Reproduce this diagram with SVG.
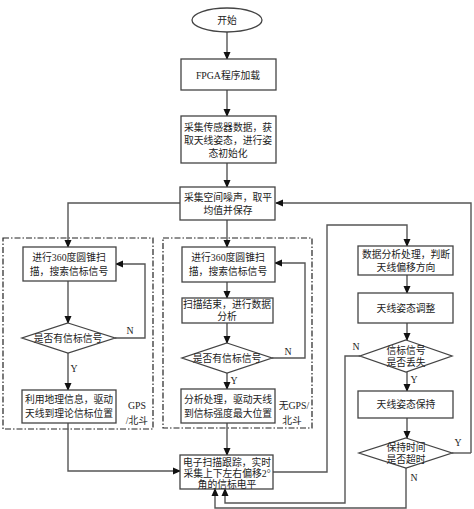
<svg xmlns="http://www.w3.org/2000/svg" width="474" height="509" viewBox="0 0 474 509">
<defs>
<marker id="ah" markerWidth="8" markerHeight="8" refX="7" refY="4" orient="auto" markerUnits="userSpaceOnUse">
<path d="M0,0.5 L8,4 L0,7.5 Z" fill="#111"/>
</marker>
<style>
.box{fill:#fff;stroke:#444;stroke-width:1.3}
.dash{fill:none;stroke:#222;stroke-width:1.2;stroke-dasharray:6,2,1.5,2}
.c{fill:none;stroke:#555;stroke-width:1.4}
text{font-family:"Liberation Serif","Noto Sans CJK SC",serif;font-size:9.8px;fill:#222;text-anchor:middle}
</style>
</defs>
<rect width="474" height="509" fill="#fff"/>
<rect class="dash" x="3" y="238" width="150" height="191"/>
<rect class="dash" x="163" y="238" width="149" height="190"/>
<g id="connectors">
<path class="c" d="M227,32 V59" marker-end="url(#ah)"/>
<path class="c" d="M227,90 V116" marker-end="url(#ah)"/>
<path class="c" d="M227,163 V187" marker-end="url(#ah)"/>
<path class="c" d="M180,203 H68 V247" marker-end="url(#ah)"/>
<path class="c" d="M227,220 V247" marker-end="url(#ah)"/>
<path class="c" d="M471,453 H452"/>
<path class="c" d="M471,453 V203 H276" marker-end="url(#ah)"/>
<path class="c" d="M68,281 V323" marker-end="url(#ah)"/>
<path class="c" d="M115,338 H145 V264 H116" marker-end="url(#ah)"/>
<path class="c" d="M68,353 V390" marker-end="url(#ah)"/>
<path class="c" d="M68,423 V471 H180" marker-end="url(#ah)"/>
<path class="c" d="M227,282 V298" marker-end="url(#ah)"/>
<path class="c" d="M227,323 V343" marker-end="url(#ah)"/>
<path class="c" d="M272,358 H305 V263 H275" marker-end="url(#ah)"/>
<path class="c" d="M227,373 V389" marker-end="url(#ah)"/>
<path class="c" d="M227,423 V455" marker-end="url(#ah)"/>
<path class="c" d="M273,472 H327 V225 H407 V246" marker-end="url(#ah)"/>
<path class="c" d="M407,275 V293" marker-end="url(#ah)"/>
<path class="c" d="M407,323 V340" marker-end="url(#ah)"/>
<path class="c" d="M407,372 V391" marker-end="url(#ah)"/>
<path class="c" d="M407,418 V438" marker-end="url(#ah)"/>
<path class="c" d="M360,356 H345 V503 H225 V489" marker-end="url(#ah)"/>
<path class="c" d="M406,468 V508 H215 V489" marker-end="url(#ah)"/>
<text x="130" y="334">N</text>
<text x="74" y="372">Y</text>
<text x="288" y="355">N</text>
<text x="234" y="384">Y</text>
<text x="356" y="350">N</text>
<text x="414" y="383">Y</text>
<text x="458" y="446">Y</text>
<text x="414" y="481">N</text>
</g>
<g id="start"><ellipse class="box" cx="227" cy="20" rx="35" ry="12"/><text x="227" y="24">开始</text></g>
<g id="fpga"><rect class="box" x="181" y="59" width="95" height="31"/><text x="228" y="79">FPGA程序加载</text></g>
<g id="init"><rect class="box" x="181" y="116" width="95" height="47"/><text x="228" y="131">采集传感器数据，获</text><text x="228" y="144">取天线姿态，进行姿</text><text x="228" y="157">态初始化</text></g>
<g id="noise"><rect class="box" x="180" y="187" width="95" height="33"/><text x="228" y="201">采集空间噪声，取平</text><text x="228" y="214">均值并保存</text></g>
<g id="scanL"><rect class="box" x="23" y="247" width="93" height="34"/><text x="69" y="261">进行360度圆锥扫</text><text x="69" y="275">描，搜索信标信号</text></g>
<g id="decL"><polygon class="box" points="68,323 115,338 68,353 22,338"/><text x="68" y="342">是否有信标信号</text></g>
<g id="geoL"><rect class="box" x="22" y="390" width="94" height="33"/><text x="69" y="403">利用地理信息，驱动</text><text x="69" y="417">天线到理论信标位置</text></g>
<text x="137" y="409">GPS</text><text x="137" y="424">/北斗</text>
<g id="scanM"><rect class="box" x="182" y="247" width="93" height="35"/><text x="228" y="261">进行360度圆锥扫</text><text x="228" y="275">描，搜索信标信号</text></g>
<g id="anaM"><rect class="box" x="182" y="298" width="91" height="25"/><text x="227" y="308">扫描结束，进行数据</text><text x="227" y="320">分析</text></g>
<g id="decM"><polygon class="box" points="227,343 272,358 227,373 182,358"/><text x="227" y="362">是否有信标信号</text></g>
<g id="driveM"><rect class="box" x="181" y="389" width="94" height="34"/><text x="228" y="403">分析处理，驱动天线</text><text x="228" y="417">到信标强度最大位置</text></g>
<text x="294" y="409">无GPS/</text><text x="292" y="424">北斗</text>
<g id="track"><rect class="box" x="180" y="455" width="93" height="34"/><text x="227" y="466">电子扫描跟踪，实时</text><text x="227" y="477">采集上下左右偏移2°</text><text x="227" y="488">角的信标电平</text></g>
<g id="analyze"><rect class="box" x="358" y="246" width="95" height="29"/><text x="406" y="258">数据分析处理，判断</text><text x="406" y="271">天线偏移方向</text></g>
<g id="adjust"><rect class="box" x="358" y="293" width="95" height="30"/><text x="406" y="312">天线姿态调整</text></g>
<g id="lost"><polygon class="box" points="406,340 452,356 406,372 360,356"/><text x="406" y="354">信标信号</text><text x="406" y="366">是否丢失</text></g>
<g id="hold"><rect class="box" x="358" y="391" width="95" height="27"/><text x="406" y="408">天线姿态保持</text></g>
<g id="timeout"><polygon class="box" points="406,438 452,453 406,468 359,453"/><text x="406" y="451">保持时间</text><text x="406" y="463">是否超时</text></g>
</svg>
